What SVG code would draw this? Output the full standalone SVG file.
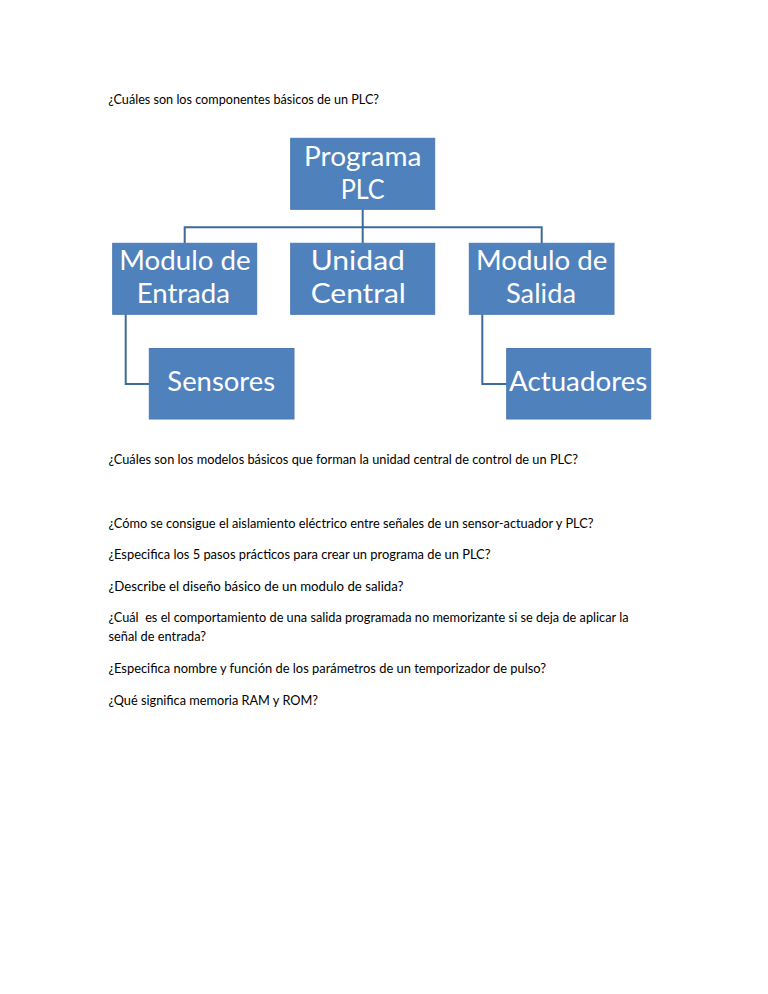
<svg xmlns="http://www.w3.org/2000/svg" width="768" height="994" viewBox="0 0 768 994">
<style>
.box{fill:#4F81BD;stroke:#4A7AB5;stroke-width:1}
.bt{font-family:Lato,"Open Sans","Liberation Sans",sans-serif;font-size:27px;fill:#FFFFFF;text-anchor:middle}
.q{font-family:Lato,"Open Sans","Liberation Sans",sans-serif;font-size:13px;fill:#000000}
.con{fill:none;stroke:#3F6A9A;stroke-width:2}
</style>
<rect width="768" height="994" fill="#FFFFFF"/>
<text class="q" x="108.3" y="104.3" textLength="270.7" lengthAdjust="spacingAndGlyphs">¿Cuáles son los componentes básicos de un PLC?</text>
<g id="connectors">
<path class="con" d="M362.7 209.3V227.3M184.7 243.3V227.3H541.7V243.3M362.7 227.3V243.3"/>
<path class="con" d="M125.7 314.3V384H149.3"/>
<path class="con" d="M482.3 314.3V384H506.7"/>
</g>
<g id="programa">
<rect class="box" x="290.7" y="138.3" width="144" height="71"/>
<text class="bt" x="362.7" y="165.5" textLength="117.3" lengthAdjust="spacingAndGlyphs">Programa</text>
<text class="bt" x="362.7" y="198.5" textLength="44" lengthAdjust="spacingAndGlyphs">PLC</text>
</g>
<g id="entrada">
<rect class="box" x="112.7" y="243.3" width="144" height="71"/>
<text class="bt" x="185" y="270" textLength="131.3" lengthAdjust="spacingAndGlyphs">Modulo de</text>
<text class="bt" x="183.3" y="303.3" textLength="93.3" lengthAdjust="spacingAndGlyphs">Entrada</text>
</g>
<g id="unidad">
<rect class="box" x="290.7" y="243.3" width="144" height="71"/>
<text class="bt" x="357.8" y="270" textLength="94.3" lengthAdjust="spacingAndGlyphs">Unidad</text>
<text class="bt" x="358.3" y="303.3" textLength="95.3" lengthAdjust="spacingAndGlyphs">Central</text>
</g>
<g id="salida">
<rect class="box" x="469.3" y="243.3" width="144.7" height="71"/>
<text class="bt" x="541.7" y="269.5" textLength="131.3" lengthAdjust="spacingAndGlyphs">Modulo de</text>
<text class="bt" x="541" y="303" textLength="70" lengthAdjust="spacingAndGlyphs">Salida</text>
</g>
<g id="sensores">
<rect class="box" x="149.3" y="348.5" width="144.7" height="70.5"/>
<text class="bt" x="221.2" y="390.5" textLength="107.7" lengthAdjust="spacingAndGlyphs">Sensores</text>
</g>
<g id="actuadores">
<rect class="box" x="506.7" y="348.5" width="144" height="70.5"/>
<text class="bt" x="578.2" y="390.5" textLength="138.3" lengthAdjust="spacingAndGlyphs">Actuadores</text>
</g>
<text class="q" x="108.5" y="464.3" textLength="469.5" lengthAdjust="spacingAndGlyphs">¿Cuáles son los modelos básicos que forman la unidad central de control de un PLC?</text>
<text class="q" x="108.5" y="527.5" textLength="485" lengthAdjust="spacingAndGlyphs">¿Cómo se consigue el aislamiento eléctrico entre señales de un sensor-actuador y PLC?</text>
<text class="q" x="108.5" y="559" textLength="382" lengthAdjust="spacingAndGlyphs">¿Especifica los 5 pasos prácticos para crear un programa de un PLC?</text>
<text class="q" x="108.5" y="590.5" textLength="295" lengthAdjust="spacingAndGlyphs">¿Describe el diseño básico de un modulo de salida?</text>
<text class="q" x="108.5" y="622" textLength="520" lengthAdjust="spacingAndGlyphs" xml:space="preserve">¿Cuál  es el comportamiento de una salida programada no memorizante si se deja de aplicar la</text>
<text class="q" x="108.5" y="641.4" textLength="97.5" lengthAdjust="spacingAndGlyphs">señal de entrada?</text>
<text class="q" x="108.5" y="673" textLength="437.5" lengthAdjust="spacingAndGlyphs">¿Especifica nombre y función de los parámetros de un temporizador de pulso?</text>
<text class="q" x="108.5" y="704.5" textLength="209.5" lengthAdjust="spacingAndGlyphs">¿Qué significa memoria RAM y ROM?</text>
</svg>
